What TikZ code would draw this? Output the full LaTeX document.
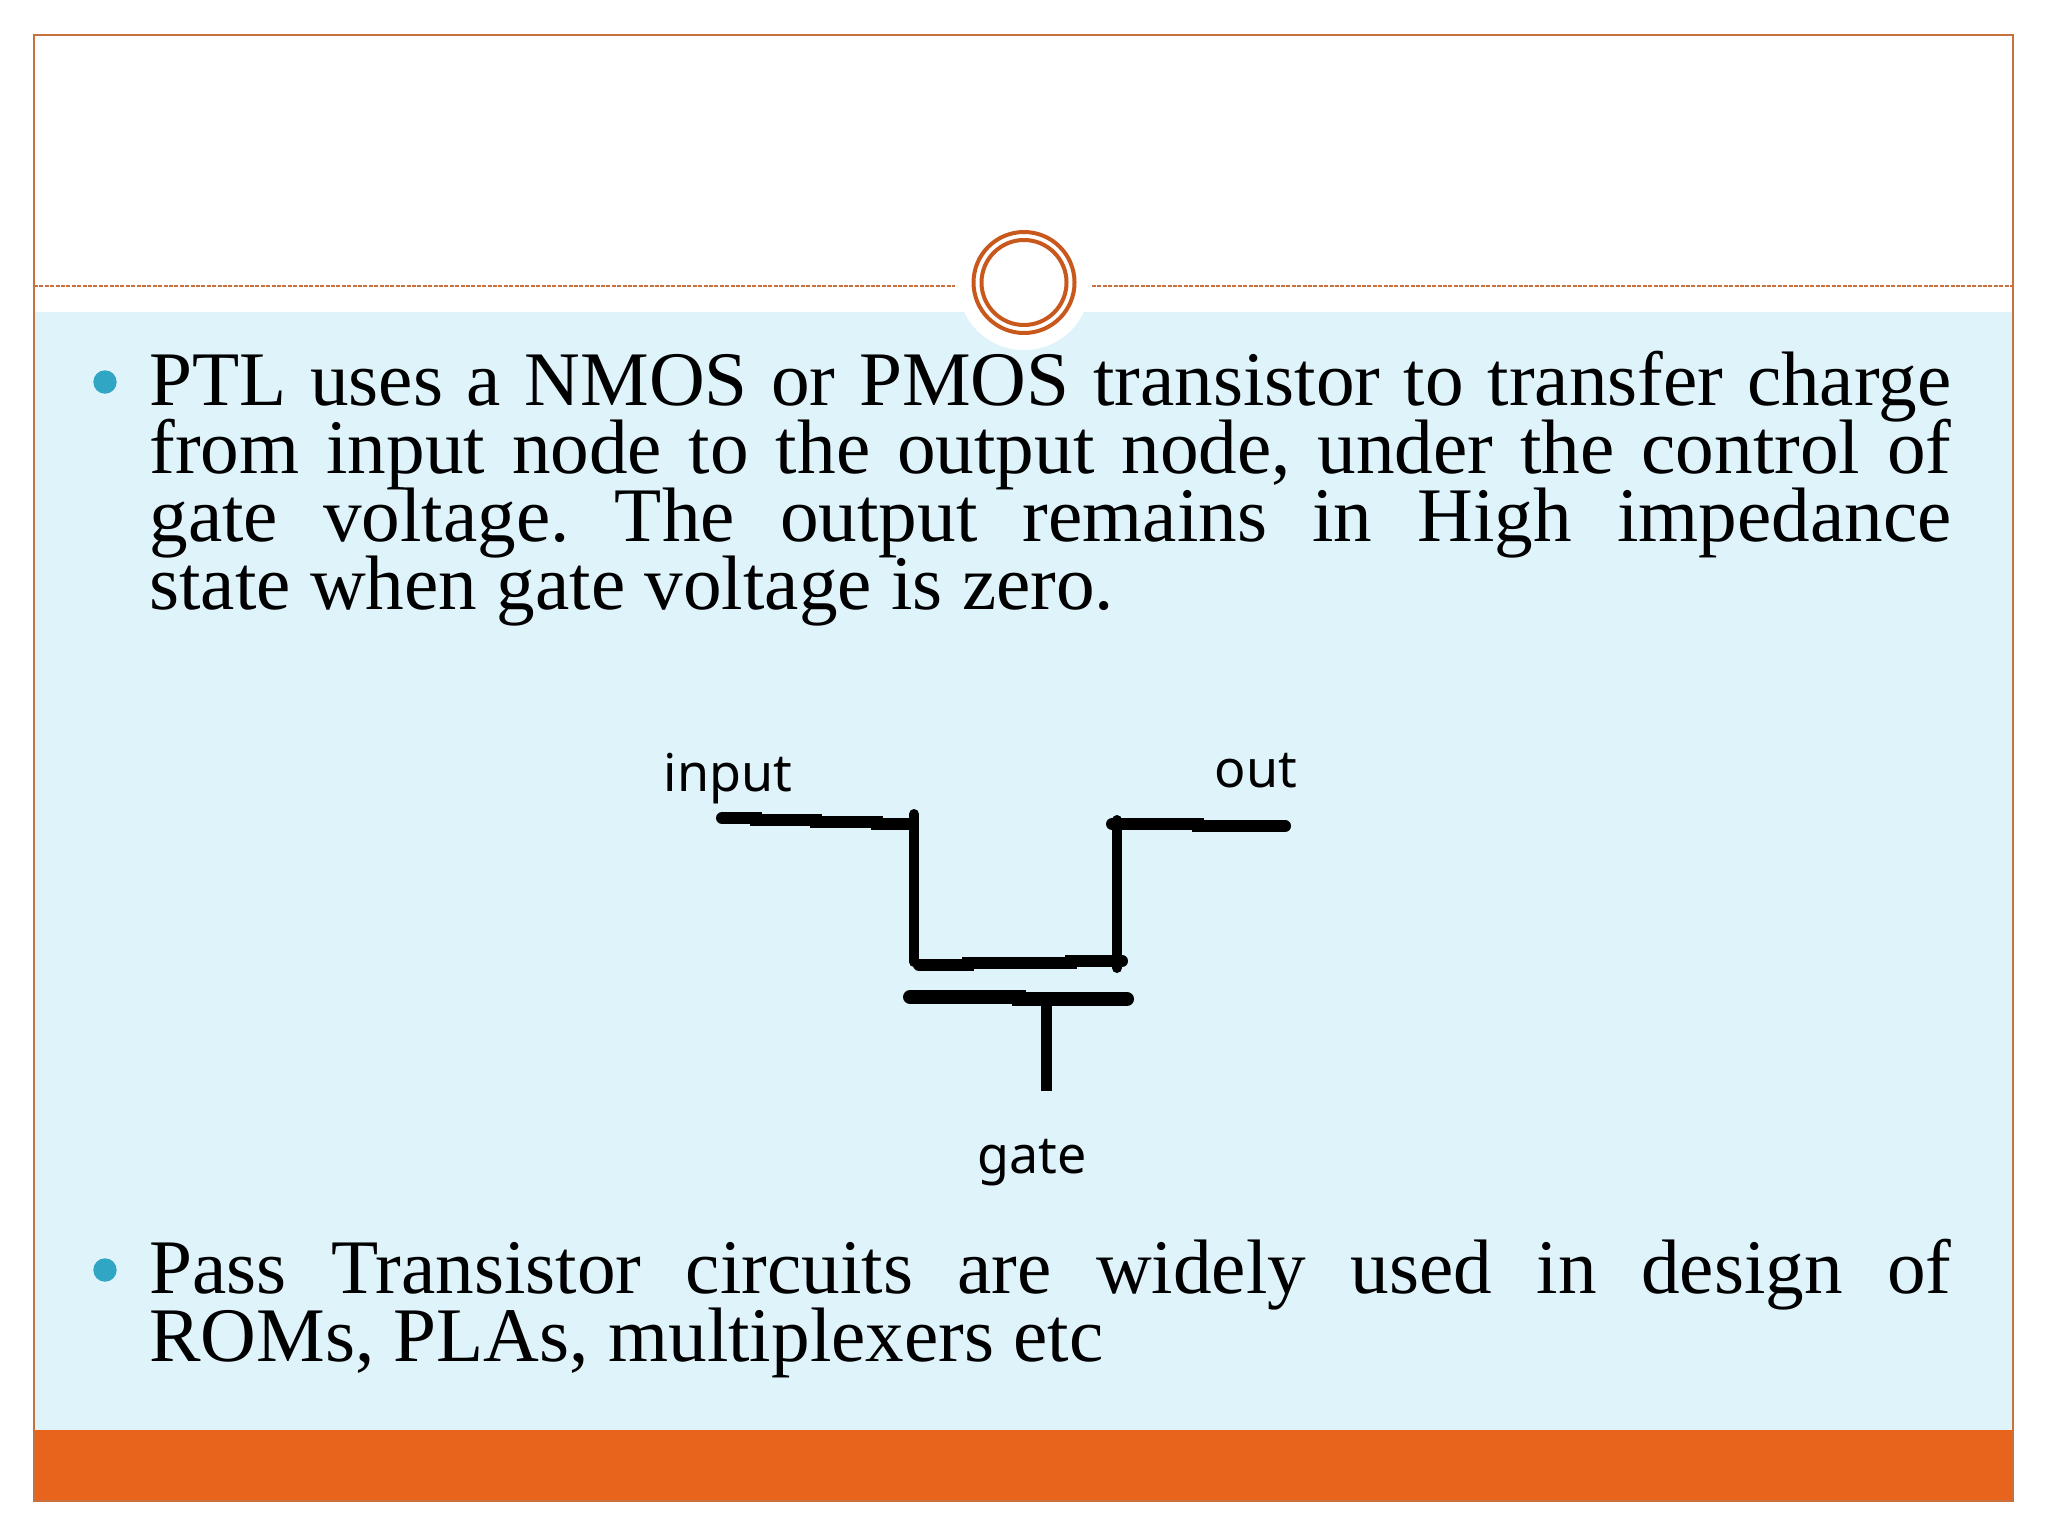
\documentclass[tikz,border=0pt]{standalone}
\usepackage{fontspec}
\setmainfont{Liberation Serif}
\newfontfamily\labelfont{Noto Sans}
\definecolor{frameorange}{HTML}{C9703F}
\definecolor{ringorange}{HTML}{C8581C}
\definecolor{barorange}{HTML}{E8641C}
\definecolor{panelblue}{HTML}{DFF3FB}
\definecolor{bulletblue}{HTML}{31A5C4}
\newcommand{\tightlines}{\setlength{\baselineskip}{34.1pt}\setlength{\lineskiplimit}{-20pt}\frenchspacing}
\tikzset{
  bodytext/.style={anchor=north west,inner sep=0pt,text width=901pt,align=justify,
    font=\fontsize{38.6}{34.1}\selectfont},
  wirelabel/.style={anchor=base,inner sep=0pt,font=\labelfont\fontsize{26}{30}\selectfont},
  bulletdot/.style={circle,fill=bulletblue,minimum size=11.7pt,inner sep=0pt},
  wirethick/.style={line width=6pt,line cap=round,line join=miter},
  wirethin/.style={line width=5pt,line cap=round},
  ringline/.style={circle,draw=ringorange,line width=2pt,inner sep=0pt},
  ruleline/.style={frameorange,line width=1pt,dash pattern=on 2pt off 0.7pt},
}
\begin{document}
\begin{tikzpicture}[x=0.5pt,y=-0.5pt]
      \useasboundingbox (0,0) rectangle (2048,1536);
      \fill[white] (0,0) rectangle (2048,1536);
      \fill[panelblue] (34,312) rectangle (2013,1430);
      \fill[barorange] (34,1430) rectangle (2013,1501);
      \draw[frameorange,line width=0.9pt] (34,35) rectangle (2013,1501);
      \draw[ruleline] (34,286) to (955,286);
      \draw[ruleline] (1092,286) to (2013,286);
      \fill[white] (1024,284) circle (66);
      \node[ringline,minimum size=50.5pt] (ringouter) at (1024,282.5) {};
      \node[ringline,minimum size=42.5pt] (ringinner) at (1024,282.5) {};

      \node[bulletdot] (bulletone) at (105,382) {};
      \node[bulletdot] (bullettwo) at (105,1270) {};
      \node[bodytext] (paraone) at (149,350.5) {\tightlines PTL uses a NMOS or PMOS transistor to transfer charge\linebreak
        from input node to the output node, under the control of\linebreak gate voltage. The output remains in High impedance\linebreak
        state when gate voltage is zero.\par};
      \node[bodytext] (paratwo) at (149,1238.5) {\tightlines Pass Transistor circuits are widely used in design of\linebreak
        ROMs, PLAs, multiplexers etc\par};

      \node[wirelabel] (input) at (728,791) {input};
      \node[wirelabel] (out) at (1256,787) {out};
      \node[wirelabel] (gate) at (1032,1173) {gate};

      \coordinate (inleft) at (722,818);
      \coordinate (instepa) at (756,820);
      \coordinate (instepb) at (816,822);
      \coordinate (instepc) at (877,824);
      \coordinate (incorner) at (912,824);
      \coordinate (intop) at (914,814);
      \coordinate (inbottom) at (914,962);
      \coordinate (channelleft) at (919,965);
      \coordinate (channelstepa) at (968,963);
      \coordinate (channelstepb) at (1071,961);
      \coordinate (channelright) at (1122,961);
      \coordinate (outbottom) at (1117,968);
      \coordinate (outtop) at (1117,820);
      \coordinate (outcorner) at (1112,824);
      \coordinate (outstep) at (1198,826);
      \coordinate (outright) at (1285,826);
      \coordinate (plateleft) at (910,997);
      \coordinate (platestep) at (1019,999);
      \coordinate (plateright) at (1127,999);
      \coordinate (platemid) at (1046,999);
      \coordinate (stemend) at (1046,1091);

      \draw[wirethick] (inleft) -| (instepa) -| (instepb) -| (instepc) -- (incorner);
      \draw[wirethin] (intop) to (inbottom);
      \draw[wirethick] (channelleft) -| (channelstepa) -| (channelstepb) -- (channelright);
      \draw[wirethin] (outbottom) to (outtop);
      \draw[wirethick] (outcorner) -| (outstep) -- (outright);
      \draw[line width=7pt,line cap=round] (plateleft) -| (platestep) -- (plateright);
      \draw[line width=5.5pt] (platemid) to (stemend);
\end{tikzpicture}
\end{document}
